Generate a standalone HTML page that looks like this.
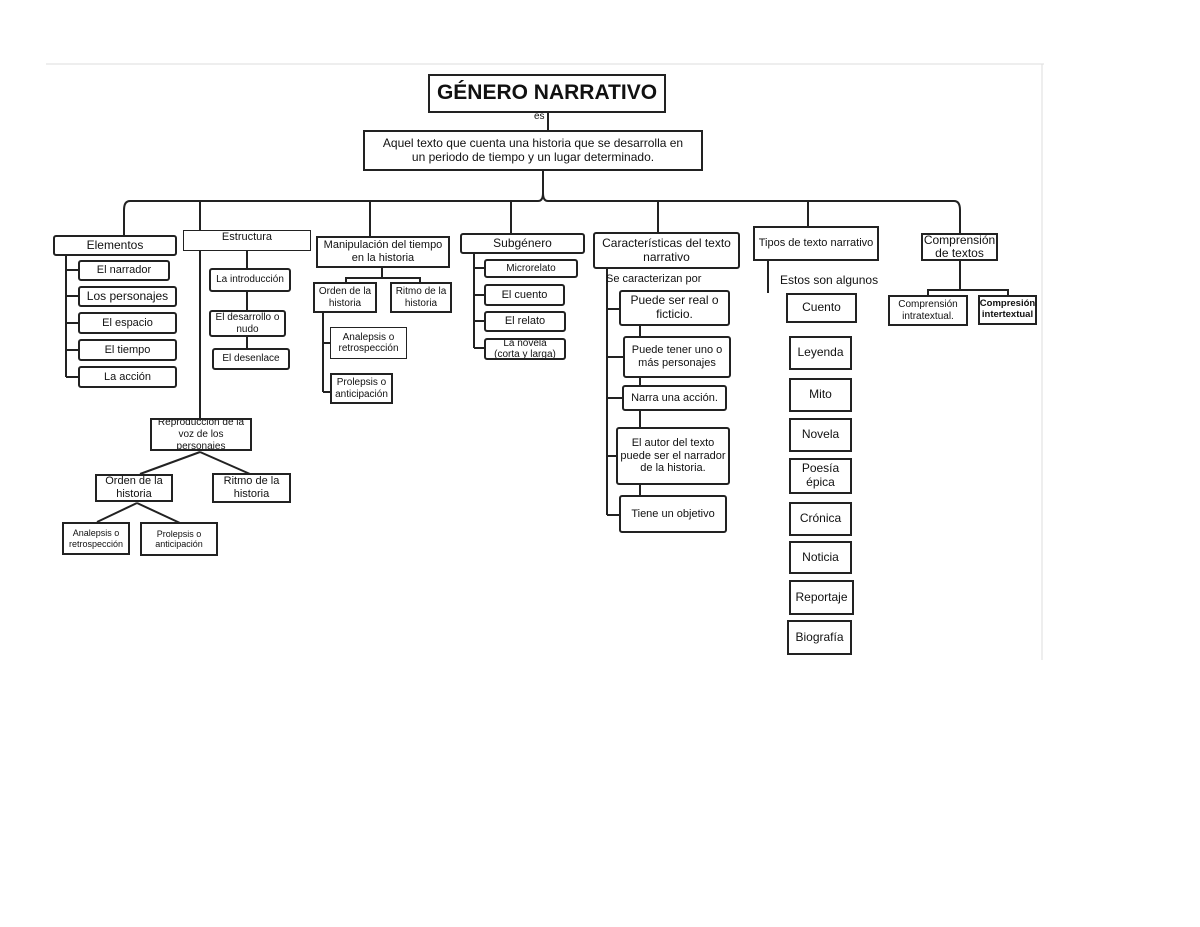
<!DOCTYPE html>
<html><head><meta charset="utf-8"><style>
body{margin:0;width:1200px;height:927px;background:#fff;position:relative;overflow:hidden;font-family:"Liberation Sans",Arial,sans-serif;color:#111}
.b{position:absolute;box-sizing:border-box;border:2px solid #222;background:#fff;display:flex;align-items:center;justify-content:center;text-align:center;font-size:11px;line-height:1.15}
.r{border-radius:3px}
.t{position:absolute;font-size:11px;white-space:nowrap}
svg{position:absolute;left:0;top:0}
</style></head><body>
<svg width="1200" height="927" fill="none" stroke="#222" stroke-width="2">
<line x1="46" y1="64" x2="1044" y2="64" stroke="#ddd" stroke-width="1"/>
<line x1="1042" y1="64" x2="1042" y2="660" stroke="#ddd" stroke-width="1"/>
<line x1="548" y1="113" x2="548" y2="131"/>
<path d="M543 171 V193 Q543 201 538 201 H130 Q124 201 124 210 V235"/>
<path d="M543 193 Q543 201 548 201 H954 Q960 201 960 210 V233"/>
<line x1="200" y1="201" x2="200" y2="231"/>
<line x1="370" y1="201" x2="370" y2="237"/>
<line x1="511" y1="201" x2="511" y2="234"/>
<line x1="658" y1="201" x2="658" y2="233"/>
<line x1="808" y1="201" x2="808" y2="227"/>
<path d="M66 256 V377 M66 270 H78 M66 296 H78 M66 323 H78 M66 350 H78 M66 377 H78"/>
<line x1="247" y1="251" x2="247" y2="350"/>
<line x1="200" y1="251" x2="200" y2="419"/>
<path d="M200 452 L140 474 M200 452 L250 474 M137 503 L97 522 M137 503 L180 523"/>
<path d="M382 268 V278 M346 283 V278 H420 V283"/>
<path d="M323 313 V392 M323 343 H330 M323 392 H330"/>
<path d="M474 254 V348 M474 268 H484 M474 295 H484 M474 321 H484 M474 348 H484"/>
<path d="M607 269 V515 M607 309 H619 M607 357 H623 M607 398 H622 M607 456 H616 M607 515 H619"/>
<path d="M640 326 V336 M640 378 V385 M640 411 V427 M640 485 V495"/>
<line x1="768" y1="261" x2="768" y2="293"/>
<path d="M960 261 V290 M928 295 V290 H1008 V295"/>
</svg>
<div class="b" style="left:428px;top:74px;width:238px;height:39px;font-size:21px;font-weight:bold">GÉNERO NARRATIVO</div>
<div class="t" style="left:534px;top:111px;font-size:10px">es</div>
<div class="b" style="left:363px;top:130px;width:340px;height:41px;font-size:12px">Aquel texto que cuenta una historia que se desarrolla en<br>un periodo de tiempo y un lugar determinado.</div>

<div class="b r" style="left:53px;top:235px;width:124px;height:21px;font-size:12px">Elementos</div>
<div class="b r" style="left:78px;top:260px;width:92px;height:21px">El narrador</div>
<div class="b r" style="left:78px;top:286px;width:99px;height:21px;font-size:12px">Los personajes</div>
<div class="b r" style="left:78px;top:312px;width:99px;height:22px">El espacio</div>
<div class="b r" style="left:78px;top:339px;width:99px;height:22px">El tiempo</div>
<div class="b r" style="left:78px;top:366px;width:99px;height:22px">La acción</div>

<div class="b" style="left:183px;top:230px;width:128px;height:21px;border-width:1px;align-items:flex-start">Estructura</div>
<div class="b r" style="left:209px;top:268px;width:82px;height:24px;font-size:10px">La introducción</div>
<div class="b r" style="left:209px;top:310px;width:77px;height:27px;font-size:10px">El desarrollo o<br>nudo</div>
<div class="b r" style="left:212px;top:348px;width:78px;height:22px;font-size:10px">El desenlace</div>
<div class="b" style="left:150px;top:418px;width:102px;height:33px;font-size:10px;overflow:hidden;line-height:1.2">Reproducción de la<br>voz de los<br>personajes</div>
<div class="b" style="left:95px;top:474px;width:78px;height:28px">Orden de la<br>historia</div>
<div class="b" style="left:212px;top:473px;width:79px;height:30px">Ritmo de la<br>historia</div>
<div class="b" style="left:62px;top:522px;width:68px;height:33px;font-size:9px">Analepsis o<br>retrospección</div>
<div class="b" style="left:140px;top:522px;width:78px;height:34px;font-size:9px">Prolepsis o<br>anticipación</div>

<div class="b" style="left:316px;top:236px;width:134px;height:32px">Manipulación del tiempo<br>en la historia</div>
<div class="b" style="left:313px;top:282px;width:64px;height:31px;font-size:10px">Orden de la<br>historia</div>
<div class="b" style="left:390px;top:282px;width:62px;height:31px;font-size:10px">Ritmo de la<br>historia</div>
<div class="b" style="left:330px;top:327px;width:77px;height:32px;font-size:10px;border-width:1px">Analepsis o<br>retrospección</div>
<div class="b" style="left:330px;top:373px;width:63px;height:31px;font-size:10px">Prolepsis o<br>anticipación</div>

<div class="b r" style="left:460px;top:233px;width:125px;height:21px;font-size:12px">Subgénero</div>
<div class="b r" style="left:484px;top:259px;width:94px;height:19px;font-size:10px">Microrelato</div>
<div class="b r" style="left:484px;top:284px;width:81px;height:22px">El cuento</div>
<div class="b r" style="left:484px;top:311px;width:82px;height:21px">El relato</div>
<div class="b r" style="left:484px;top:338px;width:82px;height:22px;font-size:10px;overflow:hidden">La novela<br>(corta y larga)</div>

<div class="b r" style="left:593px;top:232px;width:147px;height:37px;font-size:12px">Características del texto<br>narrativo</div>
<div class="t" style="left:606px;top:273px">Se caracterizan por</div>
<div class="b r" style="left:619px;top:290px;width:111px;height:36px;font-size:12px">Puede ser real o<br>ficticio.</div>
<div class="b r" style="left:623px;top:336px;width:108px;height:42px">Puede tener uno o<br>más personajes</div>
<div class="b r" style="left:622px;top:385px;width:105px;height:26px">Narra una acción.</div>
<div class="b r" style="left:616px;top:427px;width:114px;height:58px">El autor del texto<br>puede ser el narrador<br>de la historia.</div>
<div class="b r" style="left:619px;top:495px;width:108px;height:38px">Tiene un objetivo</div>

<div class="b" style="left:753px;top:226px;width:126px;height:35px;font-size:11px;white-space:nowrap">Tipos de texto narrativo</div>
<div class="t" style="left:780px;top:273px;font-size:12px">Estos son algunos</div>
<div class="b" style="left:786px;top:293px;width:71px;height:30px;font-size:12px">Cuento</div>
<div class="b" style="left:789px;top:336px;width:63px;height:34px;font-size:12px">Leyenda</div>
<div class="b" style="left:789px;top:378px;width:63px;height:34px;font-size:12px">Mito</div>
<div class="b" style="left:789px;top:418px;width:63px;height:34px;font-size:12px">Novela</div>
<div class="b" style="left:789px;top:458px;width:63px;height:36px;font-size:12px">Poesía<br>épica</div>
<div class="b" style="left:789px;top:502px;width:63px;height:34px;font-size:12px">Crónica</div>
<div class="b" style="left:789px;top:541px;width:63px;height:33px;font-size:12px">Noticia</div>
<div class="b" style="left:789px;top:580px;width:65px;height:35px;font-size:12px">Reportaje</div>
<div class="b" style="left:787px;top:620px;width:65px;height:35px;font-size:12px">Biografía</div>

<div class="b" style="left:921px;top:233px;width:77px;height:28px;font-size:12px;line-height:1.05">Comprensión<br>de textos</div>
<div class="b" style="left:888px;top:295px;width:80px;height:31px;font-size:10px">Comprensión<br>intratextual.</div>
<div class="b" style="left:978px;top:295px;width:59px;height:30px;font-size:9.5px;font-weight:bold;overflow:hidden">Compresión<br>intertextual</div>
</body></html>
